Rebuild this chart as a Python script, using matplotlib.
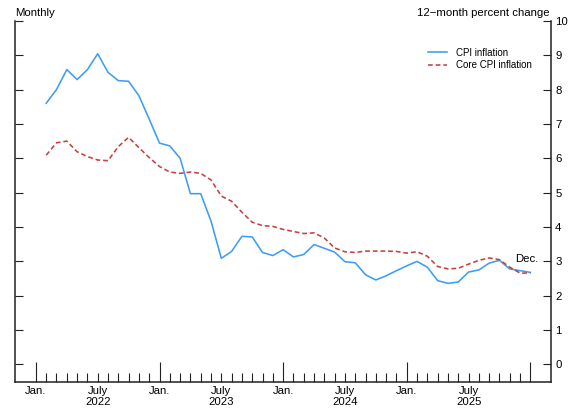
import matplotlib
matplotlib.use("Agg")
import matplotlib.pyplot as plt
import numpy as np

plt.rcParams['font.family'] = ['Liberation Sans', 'DejaVu Sans']

# monthly 12-month percent change, Jan. 2022 .. Dec. 2025
cpi = [7.60, 8.00, 8.58, 8.29, 8.58, 9.04, 8.50, 8.26, 8.24, 7.82, 7.14, 6.44,
       6.36, 6.00, 4.97, 4.97, 4.17, 3.09, 3.29, 3.73, 3.71, 3.26, 3.17, 3.34,
       3.13, 3.20, 3.49, 3.38, 3.27, 2.99, 2.96, 2.61, 2.46, 2.58, 2.73, 2.87,
       3.00, 2.83, 2.44, 2.36, 2.40, 2.69, 2.75, 2.95, 3.03, 2.78, 2.73, 2.68]
core_cpi = [6.09, 6.45, 6.50, 6.19, 6.05, 5.95, 5.93, 6.34, 6.61, 6.31, 6.02, 5.76,
            5.60, 5.56, 5.60, 5.56, 5.37, 4.90, 4.75, 4.43, 4.14, 4.04, 4.02, 3.93,
            3.87, 3.81, 3.83, 3.68, 3.39, 3.28, 3.26, 3.30, 3.30, 3.30, 3.29, 3.24,
            3.28, 3.15, 2.85, 2.78, 2.80, 2.92, 3.03, 3.10, 3.05, 2.83, 2.66, 2.66]
years = [2022, 2023, 2024, 2025]
yticks = list(range(0, 11))

# months counted from Jan. 2022; each value is drawn at the end of its month
months = np.arange(len(cpi)) + 1

fig = plt.figure(figsize=(5.77, 4.16), dpi=100)
ax = fig.add_axes([0.0265, 0.0825, 0.9284, 0.8675])

ax.plot(months, cpi, color='#3d9df5', lw=1.15, label='CPI inflation')
ax.plot(months, core_cpi, color='#c4413f', lw=1.15, dashes=(3.0, 1.8),
        label='Core CPI inflation')

ax.set_xlim(-2, 50)
ax.set_ylim(-0.5, 10)

ax.spines['top'].set_visible(False)
for s in ['left', 'right', 'bottom']:
    ax.spines[s].set_linewidth(1.1)
    ax.spines[s].set_color('#222222')

ax.set_yticks(yticks)
ax.tick_params(axis='y', direction='in', left=True, right=True,
               labelleft=False, labelright=True, length=5.8, width=0.8,
               pad=3, labelsize=8.2, color='#222222')

major = [12 * i for i in range(len(years) + 1)]
ax.set_xticks(major)
ax.set_xticklabels([''] * len(major))
minor = [m for m in range(0, 49) if m % 12 != 0]
ax.set_xticks(minor, minor=True)
minor_labels = []
for m in minor:
    if m % 12 == 6:
        minor_labels.append('July\n%d' % years[m // 12])
    else:
        minor_labels.append('')
ax.set_xticklabels(minor_labels, minor=True)
ax.tick_params(axis='x', which='major', direction='in', length=14.4, width=0.8,
               color='#222222')
ax.tick_params(axis='x', which='minor', direction='in', length=6.8, width=0.8,
               pad=3, labelsize=8.2, color='#222222')
# Jan. labels sit on the tall ticks
for i in range(len(years)):
    ax.annotate('Jan.', xy=(12 * i, 0), xycoords=('data', 'axes fraction'),
                xytext=(0, -3), textcoords='offset points',
                ha='center', va='top', fontsize=8.2)

ax.annotate('Monthly', xy=(0, 1), xycoords='axes fraction', xytext=(0, 2),
            textcoords='offset points', ha='left', va='bottom', fontsize=8.2)
ax.annotate('12\u2212month percent change', xy=(1, 1), xycoords='axes fraction',
            xytext=(-1, 2), textcoords='offset points', ha='right', va='bottom',
            fontsize=8.2)
ax.text(48.75, 2.97, 'Dec.', ha='right', va='baseline', fontsize=8.2)

ax.legend(loc='upper left', bbox_to_anchor=(0.770, 0.926), frameon=False,
          fontsize=7, handlelength=2.0, handletextpad=0.9, labelspacing=0.25,
          borderpad=0, borderaxespad=0)

fig.savefig('out.png', dpi=100)
